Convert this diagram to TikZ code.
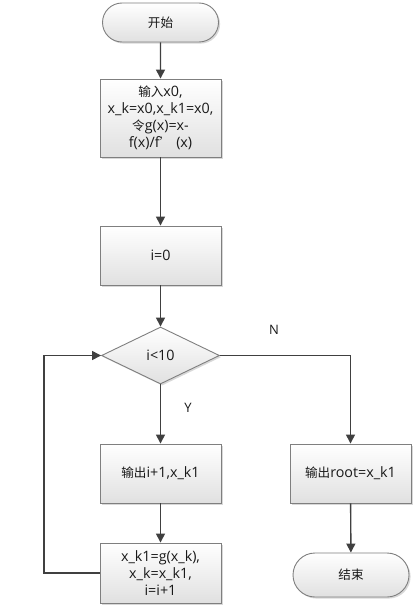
\documentclass[tikz,border=0pt]{standalone}
\usepackage{fontspec}
\setmainfont{Open Sans}
\newfontfamily\cjk{Noto Sans CJK SC}[Scale=0.88]
\usetikzlibrary{arrows.meta,shapes.geometric,shapes.misc,shadows}
\definecolor{bordc}{HTML}{7F7F7F}
\definecolor{linec}{HTML}{404040}
\begin{document}
\begin{tikzpicture}[x=1pt,y=-1pt,
  base/.style={draw=bordc,line width=0.9pt,top color=white,bottom color=black!12,
    align=center,inner sep=1pt,font=\fontsize{14.3}{17.2}\selectfont,text=black!90,
    drop shadow={shadow xshift=1.6pt,shadow yshift=-1.6pt,fill=black!25,opacity=0.6}},
  procbox/.style={base,rectangle,minimum width=119pt,text width=119pt},
  termbox/.style={base,rounded rectangle,minimum width=118pt},
  decbox/.style={base,diamond,minimum width=118pt,minimum height=57pt,aspect=2.07,inner sep=0pt},
  arr/.style={draw=linec,line width=1.4pt,-{Triangle[length=9pt,width=9pt]}},
  lbl/.style={font=\fontsize{13}{15}\selectfont,text=black!90}
]
\useasboundingbox[fill=white] (0,0) rectangle (417,607);
\node[termbox,minimum height=39pt] (start) at (160.5,22.5) {{\cjk 开始}};
\node[procbox,minimum height=78pt] (input) at (160.5,118) {{\cjk 输入}x0,\\x\_k=x0,x\_k1=x0,\\{\cjk 令}g(x)=x-\\f(x)/f{\cjk ’}\hspace{4pt}(x)};
\node[procbox,minimum height=59pt] (init) at (160.5,255.5) {i=0};
\node[decbox] (cond) at (160.5,355.5) {i<10};
\node[procbox,minimum height=59pt] (outl) at (160.5,473.5) {{\cjk 输出}i+1,x\_k1};
\node[procbox,minimum height=60pt] (upd) at (160.5,573) {x\_k1=g(x\_k),\\x\_k=x\_k1,\\i=i+1};
\node[procbox,minimum height=59pt] (outr) at (350.5,473.5) {{\cjk 输出}root=x\_k1};
\node[termbox,minimum height=44pt] (stop) at (351,575) {{\cjk 结束}};
\node[lbl] (nlab) at (274,330) {N};
\node[lbl] (ylab) at (188,408) {Y};
\coordinate (lp) at (44,573);
\draw[arr] (start) -- (input);
\draw[arr] (input) -- (init);
\draw[arr] (init) -- (cond);
\draw[arr] (cond) -- (outl);
\draw[arr] (outl) -- (upd);
\draw[arr] (cond.east) -| (outr.north);
\draw[arr] (outr) -- (stop);
\draw[arr] (upd.west) -- (lp) |- (cond.west);
\end{tikzpicture}
\end{document}
